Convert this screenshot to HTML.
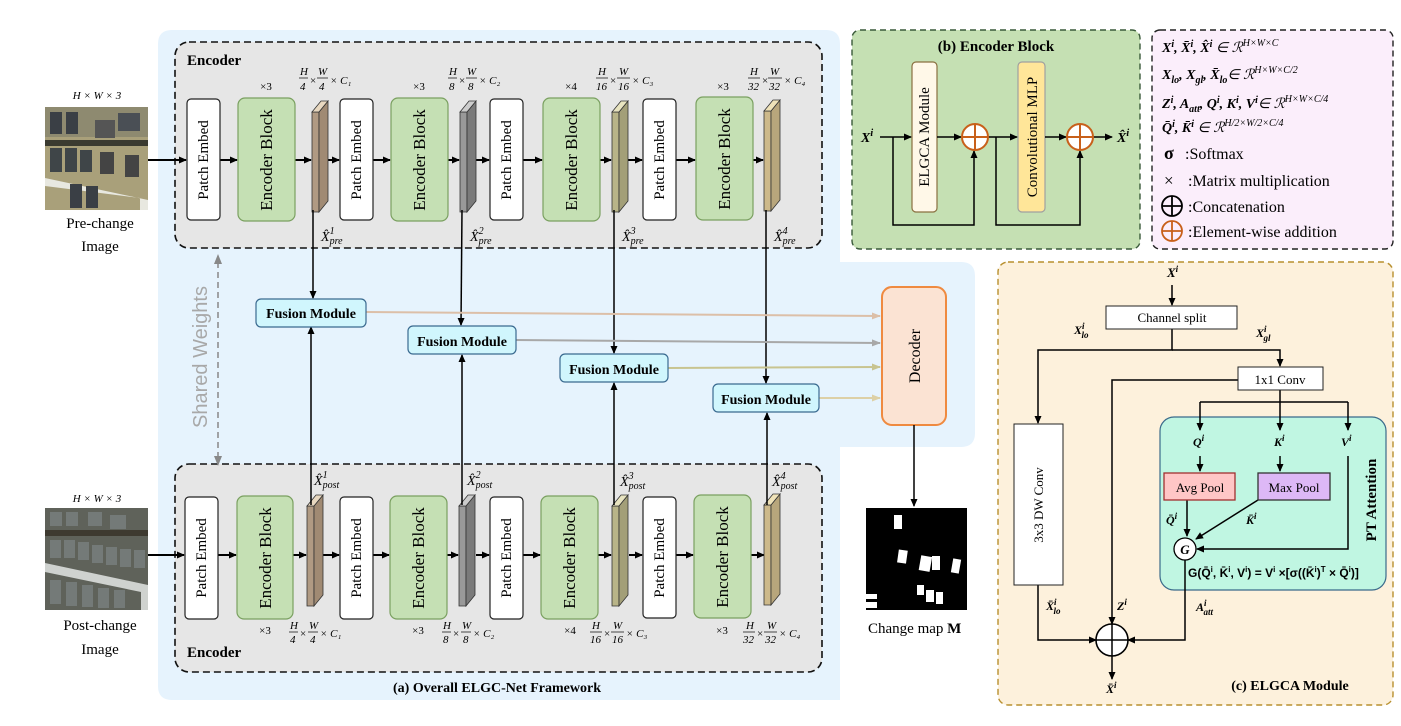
<!DOCTYPE html>
<html><head><meta charset="utf-8"><style>
html,body{margin:0;padding:0;background:#fff;}
svg{display:block;}
text{font-family:"Liberation Serif",serif;}
.m{font-style:italic;}
.b{font-weight:bold;}
</style></head><body>
<svg width="1401" height="726" viewBox="0 0 1401 726" xmlns="http://www.w3.org/2000/svg">
<defs>
<marker id="ah" markerWidth="8" markerHeight="8" refX="7" refY="4" orient="auto" markerUnits="userSpaceOnUse"><path d="M0,0.5 L8,4 L0,7.5 z" fill="#000"/></marker>
<marker id="ah1" markerWidth="9" markerHeight="9" refX="8" refY="4.5" orient="auto" markerUnits="userSpaceOnUse"><path d="M0,1 L9,4.5 L0,8 z" fill="#dcbfa8"/></marker>
<marker id="ah2" markerWidth="9" markerHeight="9" refX="8" refY="4.5" orient="auto" markerUnits="userSpaceOnUse"><path d="M0,1 L9,4.5 L0,8 z" fill="#a8a8a8"/></marker>
<marker id="ah3" markerWidth="9" markerHeight="9" refX="8" refY="4.5" orient="auto" markerUnits="userSpaceOnUse"><path d="M0,1 L9,4.5 L0,8 z" fill="#c8c490"/></marker>
<marker id="ah4" markerWidth="9" markerHeight="9" refX="8" refY="4.5" orient="auto" markerUnits="userSpaceOnUse"><path d="M0,1 L9,4.5 L0,8 z" fill="#ddd0a6"/></marker>
</defs>

<path d="M172,30 H826 Q840,30 840,44 V262 H961 Q975,262 975,276 V433 Q975,447 961,447 H840 V700 H172 Q158,700 158,686 V44 Q158,30 172,30 Z" fill="#e6f3fd"/>

<g>
<rect x="45" y="107" width="103" height="103" fill="#a9a07a"/>
<rect x="45" y="107" width="103" height="30" fill="#8e8a70"/>
<rect x="50" y="112" width="12" height="22" fill="#3a3f45"/><rect x="66" y="112" width="12" height="22" fill="#3a3f45"/>
<rect x="95" y="120" width="20" height="18" fill="#555"/><rect x="118" y="113" width="22" height="18" fill="#4a4f55"/>
<rect x="45" y="140" width="103" height="6" fill="#3a3a30"/>
<rect x="50" y="148" width="12" height="24" fill="#3f4548"/><rect x="65" y="148" width="12" height="24" fill="#3f4548"/><rect x="80" y="150" width="12" height="22" fill="#3f4548"/>
<rect x="100" y="152" width="14" height="22" fill="#444"/><rect x="125" y="155" width="14" height="22" fill="#444"/>
<path d="M45,178 L148,200 L148,210 L140,210 L140,198 L45,186 Z" fill="#e8e8e0"/>
<rect x="70" y="184" width="12" height="24" fill="#3a3f45"/><rect x="86" y="186" width="12" height="22" fill="#3a3f45"/>
</g>
<g>
<rect x="45" y="508" width="103" height="102" fill="#5f625a"/>
<rect x="45" y="530" width="103" height="6" fill="#3e3a30"/>
<path d="M45,563 L148,585 L148,610 L141,610 L141,592 L45,572 Z" fill="#cfd2cf"/>
<g fill="#747a78"><rect x="50" y="512" width="12" height="14"/><rect x="66" y="512" width="12" height="14"/><rect x="88" y="512" width="14" height="14"/><rect x="110" y="515" width="16" height="14"/>
<rect x="50" y="540" width="11" height="18"/><rect x="64" y="540" width="11" height="18"/><rect x="78" y="542" width="11" height="18"/><rect x="92" y="545" width="11" height="18"/><rect x="106" y="547" width="11" height="18"/><rect x="120" y="549" width="11" height="18"/><rect x="134" y="550" width="11" height="18"/>
<rect x="50" y="580" width="11" height="24"/><rect x="66" y="582" width="11" height="24"/><rect x="82" y="585" width="11" height="22"/><rect x="98" y="588" width="11" height="20"/><rect x="114" y="590" width="11" height="18"/></g>
</g>
<text x="97" y="99" font-size="11" text-anchor="middle" class="m">H × W × 3</text>
<text x="97" y="502" font-size="11" text-anchor="middle" class="m">H × W × 3</text>
<text x="100" y="228" font-size="15" text-anchor="middle">Pre-change</text>
<text x="100" y="251" font-size="15" text-anchor="middle">Image</text>
<text x="100" y="630" font-size="15" text-anchor="middle">Post-change</text>
<text x="100" y="654" font-size="15" text-anchor="middle">Image</text>

<rect x="175" y="42" width="647" height="206" rx="14" fill="#e6e6e6" stroke="#111" stroke-width="1.6" stroke-dasharray="7,4"/>
<rect x="175" y="464" width="647" height="208" rx="14" fill="#e6e6e6" stroke="#111" stroke-width="1.6" stroke-dasharray="7,4"/>
<text x="187" y="65" font-size="15" class="b">Encoder</text>
<text x="187" y="657" font-size="15" class="b">Encoder</text>

<text transform="translate(207,357) rotate(-90)" font-size="20" fill="#a8a8a8" text-anchor="middle" style="font-family:'Liberation Sans',sans-serif">Shared Weights</text>
<line x1="218" y1="262" x2="218" y2="458" stroke="#888" stroke-width="1.5" stroke-dasharray="6,4"/>
<path d="M214,264 L218,254 L222,264 z" fill="#888"/><path d="M214,456 L218,466 L222,456 z" fill="#888"/>

<g stroke="#000" stroke-width="2" fill="none">
<line x1="148" y1="160" x2="186" y2="160" marker-end="url(#ah)"/>
<line x1="220" y1="160" x2="237" y2="160" marker-end="url(#ah)"/>
<line x1="295" y1="160" x2="311" y2="160" marker-end="url(#ah)"/>
<line x1="327" y1="160" x2="339" y2="160" marker-end="url(#ah)"/>
<line x1="373" y1="160" x2="390" y2="160" marker-end="url(#ah)"/>
<line x1="448" y1="160" x2="459" y2="160" marker-end="url(#ah)"/>
<line x1="476" y1="160" x2="489" y2="160" marker-end="url(#ah)"/>
<line x1="523" y1="160" x2="542" y2="160" marker-end="url(#ah)"/>
<line x1="600" y1="160" x2="611" y2="160" marker-end="url(#ah)"/>
<line x1="628" y1="160" x2="642" y2="160" marker-end="url(#ah)"/>
<line x1="676" y1="160" x2="695" y2="160" marker-end="url(#ah)"/>
<line x1="753" y1="160" x2="763" y2="160" marker-end="url(#ah)"/>
</g>
<g stroke="#000" stroke-width="2" fill="none">
<line x1="148" y1="555" x2="184" y2="555" marker-end="url(#ah)"/>
<line x1="218" y1="555" x2="236" y2="555" marker-end="url(#ah)"/>
<line x1="293" y1="555" x2="306" y2="555" marker-end="url(#ah)"/>
<line x1="323" y1="555" x2="339" y2="555" marker-end="url(#ah)"/>
<line x1="373" y1="555" x2="389" y2="555" marker-end="url(#ah)"/>
<line x1="447" y1="555" x2="458" y2="555" marker-end="url(#ah)"/>
<line x1="476" y1="555" x2="489" y2="555" marker-end="url(#ah)"/>
<line x1="523" y1="555" x2="540" y2="555" marker-end="url(#ah)"/>
<line x1="598" y1="555" x2="611" y2="555" marker-end="url(#ah)"/>
<line x1="629" y1="555" x2="642" y2="555" marker-end="url(#ah)"/>
<line x1="676" y1="555" x2="693" y2="555" marker-end="url(#ah)"/>
<line x1="751" y1="555" x2="764" y2="555" marker-end="url(#ah)"/>
</g>

<g stroke="#222" stroke-width="1.2">
<rect x="187" y="99" width="33" height="121" rx="4" fill="#fff"/>
<rect x="238" y="98" width="57" height="123" rx="7" fill="#c5e0b4" stroke="#7aa060"/>
<rect x="340" y="99" width="33" height="121" rx="4" fill="#fff"/>
<rect x="391" y="98" width="57" height="123" rx="7" fill="#c5e0b4" stroke="#7aa060"/>
<rect x="490" y="99" width="33" height="121" rx="4" fill="#fff"/>
<rect x="543" y="98" width="57" height="123" rx="7" fill="#c5e0b4" stroke="#7aa060"/>
<rect x="643" y="99" width="33" height="121" rx="4" fill="#fff"/>
<rect x="696" y="97" width="57" height="123" rx="7" fill="#c5e0b4" stroke="#7aa060"/>
</g>
<g stroke="#222" stroke-width="1.2">
<rect x="185" y="497" width="33" height="122" rx="4" fill="#fff"/>
<rect x="237" y="496" width="56" height="123" rx="7" fill="#c5e0b4" stroke="#7aa060"/>
<rect x="340" y="497" width="33" height="122" rx="4" fill="#fff"/>
<rect x="390" y="496" width="57" height="123" rx="7" fill="#c5e0b4" stroke="#7aa060"/>
<rect x="490" y="497" width="33" height="122" rx="4" fill="#fff"/>
<rect x="541" y="496" width="57" height="123" rx="7" fill="#c5e0b4" stroke="#7aa060"/>
<rect x="643" y="497" width="33" height="121" rx="4" fill="#fff"/>
<rect x="694" y="495" width="57" height="123" rx="7" fill="#c5e0b4" stroke="#7aa060"/>
</g>
<g font-size="15" text-anchor="middle">
<text transform="translate(208,160) rotate(-90)">Patch Embed</text>
<text transform="translate(272,160) rotate(-90)" font-size="17">Encoder Block</text>
<text transform="translate(361,160) rotate(-90)">Patch Embed</text>
<text transform="translate(425,160) rotate(-90)" font-size="17">Encoder Block</text>
<text transform="translate(511,160) rotate(-90)">Patch Embed</text>
<text transform="translate(577,160) rotate(-90)" font-size="17">Encoder Block</text>
<text transform="translate(664,160) rotate(-90)">Patch Embed</text>
<text transform="translate(730,159) rotate(-90)" font-size="17">Encoder Block</text>
<text transform="translate(206,558) rotate(-90)">Patch Embed</text>
<text transform="translate(271,558) rotate(-90)" font-size="17">Encoder Block</text>
<text transform="translate(361,558) rotate(-90)">Patch Embed</text>
<text transform="translate(424,558) rotate(-90)" font-size="17">Encoder Block</text>
<text transform="translate(511,558) rotate(-90)">Patch Embed</text>
<text transform="translate(575,558) rotate(-90)" font-size="17">Encoder Block</text>
<text transform="translate(664,558) rotate(-90)">Patch Embed</text>
<text transform="translate(728,557) rotate(-90)" font-size="17">Encoder Block</text>
</g>

<g stroke="#333" stroke-width="0.8">
<path d="M312,112 h7 v100 h-7 z" fill="#b09a83"/><path d="M319,112 l9,-11 v100 l-9,11 z" fill="#a08a73"/><path d="M312,112 l9,-11 h7 l-9,11 z" fill="#e8d8c0"/>
<path d="M460,112 h7 v100 h-7 z" fill="#999"/><path d="M467,112 l9,-11 v100 l-9,11 z" fill="#7a7a7a"/><path d="M460,112 l9,-11 h7 l-9,11 z" fill="#ccc"/>
<path d="M612,112 h7 v100 h-7 z" fill="#b8b488"/><path d="M619,112 l9,-11 v100 l-9,11 z" fill="#a39f78"/><path d="M612,112 l9,-11 h7 l-9,11 z" fill="#e8e4c0"/>
<path d="M764,111 h7 v100 h-7 z" fill="#cdb98a"/><path d="M771,111 l9,-11 v100 l-9,11 z" fill="#b8a67c"/><path d="M764,111 l9,-11 h7 l-9,11 z" fill="#efe2b8"/>
<path d="M307,506 h7 v100 h-7 z" fill="#b09a83"/><path d="M314,506 l9,-11 v100 l-9,11 z" fill="#a08a73"/><path d="M307,506 l9,-11 h7 l-9,11 z" fill="#e8d8c0"/>
<path d="M459,506 h7 v100 h-7 z" fill="#999"/><path d="M466,506 l9,-11 v100 l-9,11 z" fill="#7a7a7a"/><path d="M459,506 l9,-11 h7 l-9,11 z" fill="#ccc"/>
<path d="M612,506 h7 v100 h-7 z" fill="#b8b488"/><path d="M619,506 l9,-11 v100 l-9,11 z" fill="#a39f78"/><path d="M612,506 l9,-11 h7 l-9,11 z" fill="#e8e4c0"/>
<path d="M764,505 h7 v100 h-7 z" fill="#cdb98a"/><path d="M771,505 l9,-11 v100 l-9,11 z" fill="#b8a67c"/><path d="M764,505 l9,-11 h7 l-9,11 z" fill="#efe2b8"/>
</g>

<g font-size="11" class="m">
<text x="266" y="90" text-anchor="middle" font-style="normal">×3</text>
<text x="419" y="90" text-anchor="middle" font-style="normal">×3</text>
<text x="571" y="90" text-anchor="middle" font-style="normal">×4</text>
<text x="723" y="90" text-anchor="middle" font-style="normal">×3</text>
<text x="300" y="75">H</text><text x="300" y="90">4</text><text x="310" y="84" font-style="normal">×</text><text x="318" y="75">W</text><text x="319" y="90">4</text><text x="330" y="84">× C₁</text>
<text x="449" y="75">H</text><text x="449" y="90">8</text><text x="459" y="84" font-style="normal">×</text><text x="467" y="75">W</text><text x="468" y="90">8</text><text x="479" y="84">× C₂</text>
<text x="598" y="75">H</text><text x="596" y="90">16</text><text x="610" y="84" font-style="normal">×</text><text x="619" y="75">W</text><text x="618" y="90">16</text><text x="632" y="84">× C₃</text>
<text x="750" y="75">H</text><text x="748" y="90">32</text><text x="762" y="84" font-style="normal">×</text><text x="770" y="75">W</text><text x="769" y="90">32</text><text x="784" y="84">× C₄</text>
<g stroke="#000" stroke-width="0.7"><line x1="299" y1="78" x2="308" y2="78"/><line x1="317" y1="78" x2="328" y2="78"/><line x1="448" y1="78" x2="457" y2="78"/><line x1="466" y1="78" x2="477" y2="78"/><line x1="596" y1="78" x2="608" y2="78"/><line x1="617" y1="78" x2="630" y2="78"/><line x1="748" y1="78" x2="760" y2="78"/><line x1="768" y1="78" x2="782" y2="78"/></g>
</g>
<g font-size="11" class="m">
<text x="265" y="634" text-anchor="middle" font-style="normal">×3</text>
<text x="418" y="634" text-anchor="middle" font-style="normal">×3</text>
<text x="570" y="634" text-anchor="middle" font-style="normal">×4</text>
<text x="722" y="634" text-anchor="middle" font-style="normal">×3</text>
<text x="290" y="629">H</text><text x="290" y="643">4</text><text x="300" y="637" font-style="normal">×</text><text x="309" y="629">W</text><text x="310" y="643">4</text><text x="320" y="637">× C₁</text>
<text x="443" y="629">H</text><text x="443" y="643">8</text><text x="453" y="637" font-style="normal">×</text><text x="462" y="629">W</text><text x="463" y="643">8</text><text x="473" y="637">× C₂</text>
<text x="592" y="629">H</text><text x="590" y="643">16</text><text x="604" y="637" font-style="normal">×</text><text x="613" y="629">W</text><text x="612" y="643">16</text><text x="626" y="637">× C₃</text>
<text x="746" y="629">H</text><text x="743" y="643">32</text><text x="757" y="637" font-style="normal">×</text><text x="767" y="629">W</text><text x="765" y="643">32</text><text x="779" y="637">× C₄</text>
<g stroke="#000" stroke-width="0.7"><line x1="289" y1="632" x2="298" y2="632"/><line x1="308" y1="632" x2="318" y2="632"/><line x1="442" y1="632" x2="451" y2="632"/><line x1="461" y1="632" x2="471" y2="632"/><line x1="590" y1="632" x2="602" y2="632"/><line x1="611" y1="632" x2="624" y2="632"/><line x1="743" y1="632" x2="755" y2="632"/><line x1="764" y1="632" x2="777" y2="632"/></g>
</g>

<g font-size="14" class="m">
<text x="321" y="241">X̂<tspan font-size="10" dy="-7">1</tspan><tspan font-size="10" dx="-5" dy="10">pre</tspan></text>
<text x="470" y="241">X̂<tspan font-size="10" dy="-7">2</tspan><tspan font-size="10" dx="-5" dy="10">pre</tspan></text>
<text x="622" y="241">X̂<tspan font-size="10" dy="-7">3</tspan><tspan font-size="10" dx="-5" dy="10">pre</tspan></text>
<text x="774" y="241">X̂<tspan font-size="10" dy="-7">4</tspan><tspan font-size="10" dx="-5" dy="10">pre</tspan></text>
<text x="314" y="485">X̂<tspan font-size="10" dy="-7">1</tspan><tspan font-size="10" dx="-5" dy="10">post</tspan></text>
<text x="467" y="485">X̂<tspan font-size="10" dy="-7">2</tspan><tspan font-size="10" dx="-5" dy="10">post</tspan></text>
<text x="620" y="486">X̂<tspan font-size="10" dy="-7">3</tspan><tspan font-size="10" dx="-5" dy="10">post</tspan></text>
<text x="772" y="486">X̂<tspan font-size="10" dy="-7">4</tspan><tspan font-size="10" dx="-5" dy="10">post</tspan></text>
</g>

<g stroke="#000" stroke-width="1.5">
<line x1="313" y1="210" x2="313" y2="298" marker-end="url(#ah)"/>
<line x1="462" y1="210" x2="461" y2="325" marker-end="url(#ah)"/>
<line x1="614" y1="210" x2="614" y2="353" marker-end="url(#ah)"/>
<line x1="766" y1="210" x2="766" y2="383" marker-end="url(#ah)"/>
<line x1="311" y1="505" x2="311" y2="327" marker-end="url(#ah)"/>
<line x1="462" y1="505" x2="462" y2="355" marker-end="url(#ah)"/>
<line x1="614" y1="505" x2="614" y2="383" marker-end="url(#ah)"/>
<line x1="767" y1="505" x2="767" y2="413" marker-end="url(#ah)"/>
</g>

<line x1="366" y1="312" x2="880" y2="316" stroke="#dcbfa8" stroke-width="2" marker-end="url(#ah1)"/>
<line x1="515" y1="340" x2="880" y2="343" stroke="#a8a8a8" stroke-width="2" marker-end="url(#ah2)"/>
<line x1="667" y1="368" x2="880" y2="367" stroke="#c8c490" stroke-width="2" marker-end="url(#ah3)"/>
<line x1="818" y1="398" x2="880" y2="398" stroke="#ddd0a6" stroke-width="2" marker-end="url(#ah4)"/>

<g fill="#d0f6fd" stroke="#3a6a90" stroke-width="1.2">
<rect x="256" y="299" width="110" height="28" rx="5"/>
<rect x="408" y="326" width="108" height="28" rx="5"/>
<rect x="560" y="354" width="108" height="28" rx="5"/>
<rect x="713" y="384" width="106" height="28" rx="5"/>
</g>
<g font-size="14" class="b" text-anchor="middle">
<text x="311" y="318">Fusion Module</text>
<text x="462" y="346">Fusion Module</text>
<text x="614" y="374">Fusion Module</text>
<text x="766" y="404">Fusion Module</text>
</g>

<rect x="882" y="287" width="64" height="138" rx="10" fill="#fbe3d3" stroke="#ef8a40" stroke-width="2"/>
<text transform="translate(920,356) rotate(-90)" font-size="16" text-anchor="middle">Decoder</text>
<line x1="914" y1="425" x2="914" y2="506" stroke="#000" stroke-width="1.5" marker-end="url(#ah)"/>
<rect x="866" y="508" width="101" height="102" fill="#000"/>
<g fill="#fff">
<rect x="894" y="515" width="8" height="14"/>
<rect x="898" y="550" width="9" height="13" transform="rotate(8 902 556)"/>
<rect x="920" y="556" width="11" height="15" transform="rotate(10 925 563)"/>
<rect x="932" y="556" width="8" height="14"/>
<rect x="952" y="559" width="8" height="14" transform="rotate(10 956 566)"/>
<rect x="917" y="585" width="7" height="10"/><rect x="926" y="590" width="8" height="12"/><rect x="936" y="592" width="7" height="12"/>
<rect x="866" y="594" width="11" height="5"/><rect x="866" y="602" width="11" height="6"/>
</g>
<text x="868" y="633" font-size="15">Change map <tspan class="b">M</tspan></text>

<text x="497" y="692" font-size="14" class="b" text-anchor="middle">(a) Overall ELGC-Net Framework</text>

<rect x="852" y="30" width="288" height="219" rx="8" fill="#c5e0b3" stroke="#3a5a3a" stroke-width="1.4" stroke-dasharray="6,4"/>
<text x="996" y="51" font-size="15" class="b" text-anchor="middle">(b) Encoder Block</text>
<rect x="912" y="62" width="25" height="150" rx="4" fill="#fff8e8" stroke="#8a7040" stroke-width="1.2"/>
<rect x="1018" y="62" width="27" height="150" rx="4" fill="#ffe699" stroke="#a0a0a0" stroke-width="1.2"/>
<text transform="translate(929,137) rotate(-90)" font-size="15" text-anchor="middle">ELGCA Module</text>
<text transform="translate(1037,137) rotate(-90)" font-size="15" text-anchor="middle">Convolutional MLP</text>
<text x="861" y="142" font-size="14" class="m b">X<tspan font-size="10" dy="-6">i</tspan></text>
<g stroke="#000" stroke-width="1.5" fill="none">
<line x1="880" y1="137" x2="911" y2="137" marker-end="url(#ah)"/>
<polyline points="893,137 893,225 974,225 974,151" marker-end="url(#ah)"/>
<line x1="937" y1="137" x2="961" y2="137" marker-end="url(#ah)"/>
<line x1="988" y1="137" x2="1017" y2="137" marker-end="url(#ah)"/>
<polyline points="996,137 996,225 1080,225 1080,151" marker-end="url(#ah)"/>
<line x1="1045" y1="137" x2="1066" y2="137" marker-end="url(#ah)"/>
<line x1="1093" y1="137" x2="1112" y2="137" marker-end="url(#ah)"/>
</g>
<g fill="#fff" stroke="#c8601a" stroke-width="2">
<circle cx="975" cy="137" r="13"/><line x1="962" y1="137" x2="988" y2="137"/><line x1="975" y1="124" x2="975" y2="150"/>
<circle cx="1080" cy="137" r="13"/><line x1="1067" y1="137" x2="1093" y2="137"/><line x1="1080" y1="124" x2="1080" y2="150"/>
</g>
<text x="1117" y="142" font-size="14" class="m b">X̂<tspan font-size="10" dy="-6">i</tspan></text>

<rect x="1152" y="30" width="241" height="219" rx="8" fill="#fbeefb" stroke="#222" stroke-width="1.4" stroke-dasharray="6,4"/>
<g font-size="14">
<text x="1162" y="52" class="m b">X<tspan font-size="10" dy="-5">i</tspan><tspan dy="5">, X̄</tspan><tspan font-size="10" dy="-5">i</tspan><tspan dy="5">, X̂</tspan><tspan font-size="10" dy="-5">i</tspan><tspan dy="5" font-weight="normal"> ∈ ℛ</tspan><tspan font-size="10" dy="-6" font-weight="normal">H×W×C</tspan></text>
<text x="1162" y="79" class="m b">X<tspan font-size="10" dy="4">lo</tspan><tspan dy="-4">, X</tspan><tspan font-size="10" dy="4">gl</tspan><tspan dy="-4">, X̄</tspan><tspan font-size="10" dy="4">lo</tspan><tspan dy="-4" font-weight="normal">∈ ℛ</tspan><tspan font-size="10" dy="-6" font-weight="normal">H×W×C/2</tspan></text>
<text x="1162" y="108" class="m b">Z<tspan font-size="10" dy="-5">i</tspan><tspan dy="5">, A</tspan><tspan font-size="10" dy="4">att</tspan><tspan dy="-4">, Q</tspan><tspan font-size="10" dy="-5">i</tspan><tspan dy="5">, K</tspan><tspan font-size="10" dy="-5">i</tspan><tspan dy="5">, V</tspan><tspan font-size="10" dy="-5">i</tspan><tspan dy="5" font-weight="normal">∈ ℛ</tspan><tspan font-size="10" dy="-6" font-weight="normal">H×W×C/4</tspan></text>
<text x="1162" y="132" class="m b">Q̄<tspan font-size="10" dy="-5">i</tspan><tspan dy="5">, K̄</tspan><tspan font-size="10" dy="-5">i</tspan><tspan dy="5" font-weight="normal"> ∈ ℛ</tspan><tspan font-size="10" dy="-6" font-weight="normal">H/2×W/2×C/4</tspan></text>
<text x="1164" y="159" font-size="18" class="b">σ</text><text x="1185" y="159" font-size="16">:Softmax</text>
<text x="1164" y="186" font-size="17">×</text><text x="1188" y="186" font-size="16">:Matrix multiplication</text>
<text x="1188" y="212" font-size="16">:Concatenation</text>
<text x="1188" y="237" font-size="16">:Element-wise addition</text>
</g>
<g fill="none" stroke-width="1.8">
<circle cx="1172" cy="206" r="10" stroke="#000"/><line x1="1162" y1="206" x2="1182" y2="206" stroke="#000"/><line x1="1172" y1="196" x2="1172" y2="216" stroke="#000"/>
<circle cx="1172" cy="231" r="10" stroke="#c8601a"/><line x1="1162" y1="231" x2="1182" y2="231" stroke="#c8601a"/><line x1="1172" y1="221" x2="1172" y2="241" stroke="#c8601a"/>
</g>

<rect x="998" y="262" width="395" height="443" rx="10" fill="#fdf1dc" stroke="#b8902f" stroke-width="1.4" stroke-dasharray="6,4"/>
<rect x="1160" y="417" width="226" height="173" rx="14" fill="#c0f6e2" stroke="#3a6a8a" stroke-width="1.2"/>
<text x="1167" y="277" font-size="13" class="m b">X<tspan font-size="9" dy="-5">i</tspan></text>
<g stroke="#000" stroke-width="1.5" fill="none">
<line x1="1172" y1="285" x2="1172" y2="305" marker-end="url(#ah)"/>
<polyline points="1172,329 1172,350 1038,350 1038,423" marker-end="url(#ah)"/>
<polyline points="1172,350 1280,350 1280,366" marker-end="url(#ah)"/>
<polyline points="1238,380 1112,380 1112,624" marker-end="url(#ah)"/>
<line x1="1280" y1="390" x2="1280" y2="430" marker-end="url(#ah)"/>
<polyline points="1200,402 1200,430" marker-end="url(#ah)"/>
<line x1="1200" y1="402" x2="1348" y2="402"/>
<polyline points="1348,402 1348,430" marker-end="url(#ah)"/>
<line x1="1200" y1="456" x2="1200" y2="471" marker-end="url(#ah)"/>
<line x1="1280" y1="456" x2="1280" y2="471" marker-end="url(#ah)"/>
<line x1="1187" y1="500" x2="1187" y2="536" marker-end="url(#ah)"/>
<line x1="1258" y1="500" x2="1196" y2="539" marker-end="url(#ah)"/>
<polyline points="1348,456 1348,549 1197,549" marker-end="url(#ah)"/>
<polyline points="1185,560 1185,640 1128,640" marker-end="url(#ah)"/>
<polyline points="1038,585 1038,640 1096,640" marker-end="url(#ah)"/>
<line x1="1112" y1="655" x2="1112" y2="679" marker-end="url(#ah)"/>
</g>
<rect x="1106" y="306" width="131" height="23" fill="#fff" stroke="#222" stroke-width="1"/>
<text x="1172" y="322" font-size="13" text-anchor="middle">Channel split</text>
<rect x="1238" y="367" width="85" height="23" fill="#fff" stroke="#222" stroke-width="1"/>
<text x="1280" y="384" font-size="13" text-anchor="middle">1x1 Conv</text>
<rect x="1014" y="424" width="49" height="161" fill="#fff" stroke="#222" stroke-width="1"/>
<text transform="translate(1043,505) rotate(-90)" font-size="13" text-anchor="middle">3x3 DW Conv</text>
<rect x="1164" y="473" width="71" height="27" fill="#ffc6c6" stroke="#a03030" stroke-width="1.3"/>
<text x="1200" y="492" font-size="13" text-anchor="middle">Avg Pool</text>
<rect x="1258" y="473" width="72" height="27" fill="#ddb8f6" stroke="#333" stroke-width="1.3"/>
<text x="1294" y="492" font-size="13" text-anchor="middle">Max Pool</text>
<circle cx="1185" cy="549" r="11" fill="#fff" stroke="#000" stroke-width="1.3"/>
<text x="1185" y="554" font-size="13" class="m b" text-anchor="middle">G</text>
<circle cx="1112" cy="640" r="16" fill="#fff" stroke="#000" stroke-width="1.6"/>
<line x1="1096" y1="640" x2="1128" y2="640" stroke="#000" stroke-width="1.5"/><line x1="1112" y1="624" x2="1112" y2="656" stroke="#000" stroke-width="1.5"/>
<g font-size="12" class="m b">
<text x="1074" y="334">X<tspan font-size="9" dy="-5">i</tspan><tspan font-size="9" dx="-3" dy="9">lo</tspan></text>
<text x="1256" y="337">X<tspan font-size="9" dy="-5">i</tspan><tspan font-size="9" dx="-3" dy="9">gl</tspan></text>
<text x="1193" y="446">Q<tspan font-size="9" dy="-5">i</tspan></text>
<text x="1274" y="446">K<tspan font-size="9" dy="-5">i</tspan></text>
<text x="1341" y="446">V<tspan font-size="9" dy="-5">i</tspan></text>
<text x="1166" y="524">Q̄<tspan font-size="9" dy="-5">i</tspan></text>
<text x="1246" y="524">K̄<tspan font-size="9" dy="-5">i</tspan></text>
<text x="1046" y="610">X̄<tspan font-size="9" dy="-5">i</tspan><tspan font-size="9" dx="-3" dy="9">lo</tspan></text>
<text x="1117" y="610">Z<tspan font-size="9" dy="-5">i</tspan></text>
<text x="1196" y="611">A<tspan font-size="9" dy="-5">i</tspan><tspan font-size="9" dx="-3" dy="9">att</tspan></text>
<text x="1106" y="693">X̄<tspan font-size="9" dy="-5">i</tspan></text>
</g>
<text x="1188" y="577" font-size="12" class="b" style="font-family:'Liberation Sans',sans-serif">G(Q̄<tspan font-size="8" dy="-5">i</tspan><tspan dy="5">, K̄</tspan><tspan font-size="8" dy="-5">i</tspan><tspan dy="5">, V</tspan><tspan font-size="8" dy="-5">i</tspan><tspan dy="5">) = V</tspan><tspan font-size="8" dy="-5">i</tspan><tspan dy="5"> ×[σ((K̄</tspan><tspan font-size="8" dy="-5">i</tspan><tspan dy="5">)</tspan><tspan font-size="8" dy="-5">T</tspan><tspan dy="5"> × Q̄</tspan><tspan font-size="8" dy="-5">i</tspan><tspan dy="5">)]</tspan></text>
<text transform="translate(1376,500) rotate(-90)" font-size="15" class="b" text-anchor="middle">PT Attention</text>
<text x="1290" y="690" font-size="14" class="b" text-anchor="middle">(c) ELGCA Module</text>
</svg>
</body></html>
